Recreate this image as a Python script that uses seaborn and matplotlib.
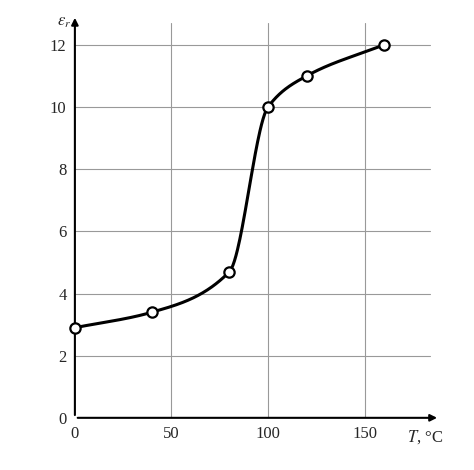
import numpy as np
import matplotlib
matplotlib.use("Agg")
import matplotlib.pyplot as plt
import seaborn as sns
import pandas as pd

T = [0, 40, 80, 100, 120, 160]
eps = [2.9, 3.4, 4.7, 10.0, 11.0, 12.0]
xticks = [0, 50, 100, 150]
yticks = [0, 2, 4, 6, 8, 10, 12]

def pchip(x, y, xs):
    x = np.asarray(x, float); y = np.asarray(y, float)
    h = np.diff(x); d = np.diff(y) / h
    m = np.zeros_like(y)
    for k in range(1, len(x) - 1):
        if d[k-1] * d[k] > 0:
            w1 = 2*h[k] + h[k-1]; w2 = h[k] + 2*h[k-1]
            m[k] = (w1 + w2) / (w1/d[k-1] + w2/d[k])
    m[0] = d[0]; m[-1] = d[-1]
    out = []
    for v in xs:
        k = min(np.searchsorted(x, v, side='right') - 1, len(x) - 2)
        t = (v - x[k]) / h[k]
        h00 = 2*t**3 - 3*t**2 + 1; h10 = t**3 - 2*t**2 + t
        h01 = -2*t**3 + 3*t**2; h11 = t**3 - t**2
        out.append(h00*y[k] + h10*h[k]*m[k] + h01*y[k+1] + h11*h[k]*m[k+1])
    return np.array(out)

xs = np.linspace(T[0], T[-1], 400)
curve = pd.DataFrame({"T": xs, "eps": pchip(T, eps, xs)})
pts = pd.DataFrame({"T": T, "eps": eps})

sns.set_style("white")
plt.rcParams['font.family'] = ['Liberation Serif', 'DejaVu Serif']
plt.rcParams['mathtext.fontset'] = 'stix'
fig = plt.figure(figsize=(4.74, 4.70), dpi=100)
ax = fig.add_axes([0.158, 0.111, 0.77, 0.857])
ax.set_xlim(0, 189)
ax.set_ylim(0, 12.96)
for v in xticks[1:]:
    ax.plot([v, v], [0, 12.7], color="#999999", lw=0.8, zorder=0)
for v in yticks[1:]:
    ax.plot([0, 184], [v, v], color="#999999", lw=0.8, zorder=0)
sns.lineplot(data=curve, x="T", y="eps", ax=ax, color="black", lw=2.2)
sns.scatterplot(data=pts, x="T", y="eps", ax=ax, s=55, facecolor="white",
                edgecolor="black", linewidth=1.6, zorder=5, clip_on=False)
for s in ["top", "right", "left", "bottom"]:
    ax.spines[s].set_visible(False)
ax.annotate("", xy=(189, 0), xytext=(0, 0),
            arrowprops=dict(arrowstyle="-|>", color="black", lw=1.5), annotation_clip=False)
ax.annotate("", xy=(0, 12.96), xytext=(0, 0),
            arrowprops=dict(arrowstyle="-|>", color="black", lw=1.5), annotation_clip=False)
ax.set_xticks(xticks)
ax.set_yticks(yticks)
ax.tick_params(labelsize=12, length=0, pad=6)
ax.set_xlabel(""); ax.set_ylabel("")
ax.text(172, -0.35, r"$T$, °C", fontsize=12, ha="left", va="top")
ax.text(-2, 12.75, r"$\varepsilon_r$", fontsize=12, ha="right", va="center")
fig.savefig("out.png", dpi=100)
